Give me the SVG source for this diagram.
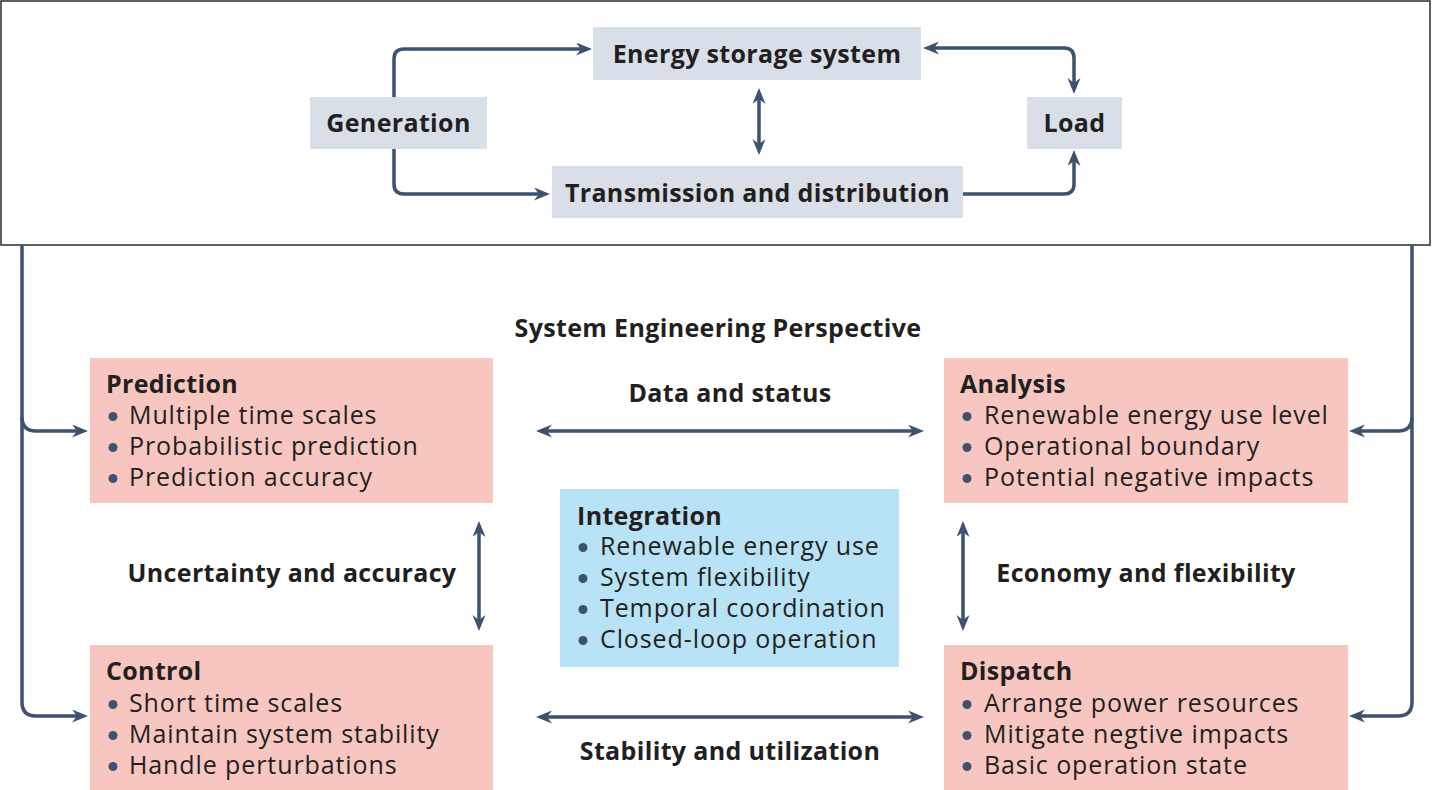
<svg xmlns="http://www.w3.org/2000/svg" width="1432" height="790" viewBox="0 0 1432 790">
<defs>
<style>
.frame{fill:#fff;stroke:#2b2b2b;stroke-width:1.5}
.top{fill:#d9dfe8}
.pink{fill:#f8c6c1}
.blue{fill:#b8e3f7}
.lbl{font-family:"Open Sans","Liberation Sans",sans-serif;font-weight:700;font-size:25px;fill:#231f20;letter-spacing:0.35px}
.it{font-family:"Open Sans","Liberation Sans",sans-serif;font-weight:400;font-size:25px;fill:#231f20;letter-spacing:0.9px}
.c{text-anchor:middle}
.bul{fill:#3d5170}
.ln{fill:none;stroke:#3d5170;stroke-width:3.5}
.a2{marker-end:url(#ah)}
.ab{marker-start:url(#ah);marker-end:url(#ah)}
</style>
<marker id="ah" markerUnits="userSpaceOnUse" markerWidth="18" markerHeight="14" refX="5" refY="6.5" orient="auto-start-reverse">
<path d="M0,0 L16,6.5 L0,13 L5,6.5 Z" fill="#3d5170"/>
</marker>
</defs>
<rect width="1432" height="790" fill="#fff"/>
<rect class="frame" x="1" y="1" width="1429" height="244"/>

<g id="connectors">
<path class="ln a2" d="M394,97 V59 Q394,49 404,49 H581"/>
<path class="ln a2" d="M394,149 V184 Q394,194 404,194 H539"/>
<path class="ln ab" d="M759,99 V144"/>
<path class="ln ab" d="M934,48 H1064 Q1074,48 1074,58 V83"/>
<path class="ln a2" d="M963,194 H1064 Q1074,194 1074,184 V161"/>
<path class="ln a2" d="M22,245 V702 Q22,716 36,716 H77"/>
<path class="ln a2" d="M22,417 Q22,431 36,431 H77"/>
<path class="ln a2" d="M1412,245 V702 Q1412,716 1398,716 H1360"/>
<path class="ln a2" d="M1412,417 Q1412,431 1398,431 H1360"/>
<path class="ln ab" d="M547,431 H913"/>
<path class="ln ab" d="M547,717 H913"/>
<path class="ln ab" d="M479,532 V620"/>
<path class="ln ab" d="M963,532 V620"/>
</g>

<g id="generation">
<rect class="top" x="310" y="97" width="177" height="52"/>
<text class="lbl c" x="398.5" y="132">Generation</text>
</g>
<g id="energy-storage">
<rect class="top" x="593" y="27" width="328" height="53"/>
<text class="lbl c" x="757" y="63">Energy storage system</text>
</g>
<g id="transmission">
<rect class="top" x="552" y="166" width="411" height="52"/>
<text class="lbl c" x="757.5" y="202">Transmission and distribution</text>
</g>
<g id="load">
<rect class="top" x="1027" y="97" width="95" height="52"/>
<text class="lbl c" x="1074.5" y="132">Load</text>
</g>

<g id="labels">
<text class="lbl c" x="718" y="337">System Engineering Perspective</text>
<text class="lbl c" x="730" y="402">Data and status</text>
<text class="lbl c" x="292" y="582">Uncertainty and accuracy</text>
<text class="lbl c" x="1146" y="582">Economy and flexibility</text>
<text class="lbl c" x="730" y="760">Stability and utilization</text>
</g>

<g id="prediction">
<rect class="pink" x="90" y="358" width="403" height="145"/>
<text class="lbl" x="106" y="393">Prediction</text>
<circle class="bul" cx="113" cy="416.5" r="4.5"/><text class="it" x="129" y="424">Multiple time scales</text>
<circle class="bul" cx="113" cy="447.5" r="4.5"/><text class="it" x="129" y="455">Probabilistic prediction</text>
<circle class="bul" cx="113" cy="478.5" r="4.5"/><text class="it" x="129" y="486">Prediction accuracy</text>
</g>

<g id="analysis">
<rect class="pink" x="944" y="358" width="404" height="145"/>
<text class="lbl" x="960" y="393">Analysis</text>
<circle class="bul" cx="967" cy="416.5" r="4.5"/><text class="it" x="984" y="424">Renewable energy use level</text>
<circle class="bul" cx="967" cy="447.5" r="4.5"/><text class="it" x="984" y="455">Operational boundary</text>
<circle class="bul" cx="967" cy="478.5" r="4.5"/><text class="it" x="984" y="486">Potential negative impacts</text>
</g>

<g id="integration">
<rect class="blue" x="560" y="489" width="339" height="178"/>
<text class="lbl" x="577" y="525">Integration</text>
<circle class="bul" cx="583" cy="547.5" r="4.5"/><text class="it" x="600" y="555">Renewable energy use</text>
<circle class="bul" cx="583" cy="578.5" r="4.5"/><text class="it" x="600" y="586">System flexibility</text>
<circle class="bul" cx="583" cy="609.5" r="4.5"/><text class="it" x="600" y="617">Temporal coordination</text>
<circle class="bul" cx="583" cy="640.5" r="4.5"/><text class="it" x="600" y="648">Closed-loop operation</text>
</g>

<g id="control">
<rect class="pink" x="90" y="645" width="403" height="145"/>
<text class="lbl" x="106" y="680">Control</text>
<circle class="bul" cx="113" cy="704.5" r="4.5"/><text class="it" x="129" y="712">Short time scales</text>
<circle class="bul" cx="113" cy="735.5" r="4.5"/><text class="it" x="129" y="743">Maintain system stability</text>
<circle class="bul" cx="113" cy="766.5" r="4.5"/><text class="it" x="129" y="774">Handle perturbations</text>
</g>

<g id="dispatch">
<rect class="pink" x="944" y="645" width="404" height="145"/>
<text class="lbl" x="960" y="680">Dispatch</text>
<circle class="bul" cx="967" cy="704.5" r="4.5"/><text class="it" x="984" y="712">Arrange power resources</text>
<circle class="bul" cx="967" cy="735.5" r="4.5"/><text class="it" x="984" y="743">Mitigate negtive impacts</text>
<circle class="bul" cx="967" cy="766.5" r="4.5"/><text class="it" x="984" y="774">Basic operation state</text>
</g>
</svg>
